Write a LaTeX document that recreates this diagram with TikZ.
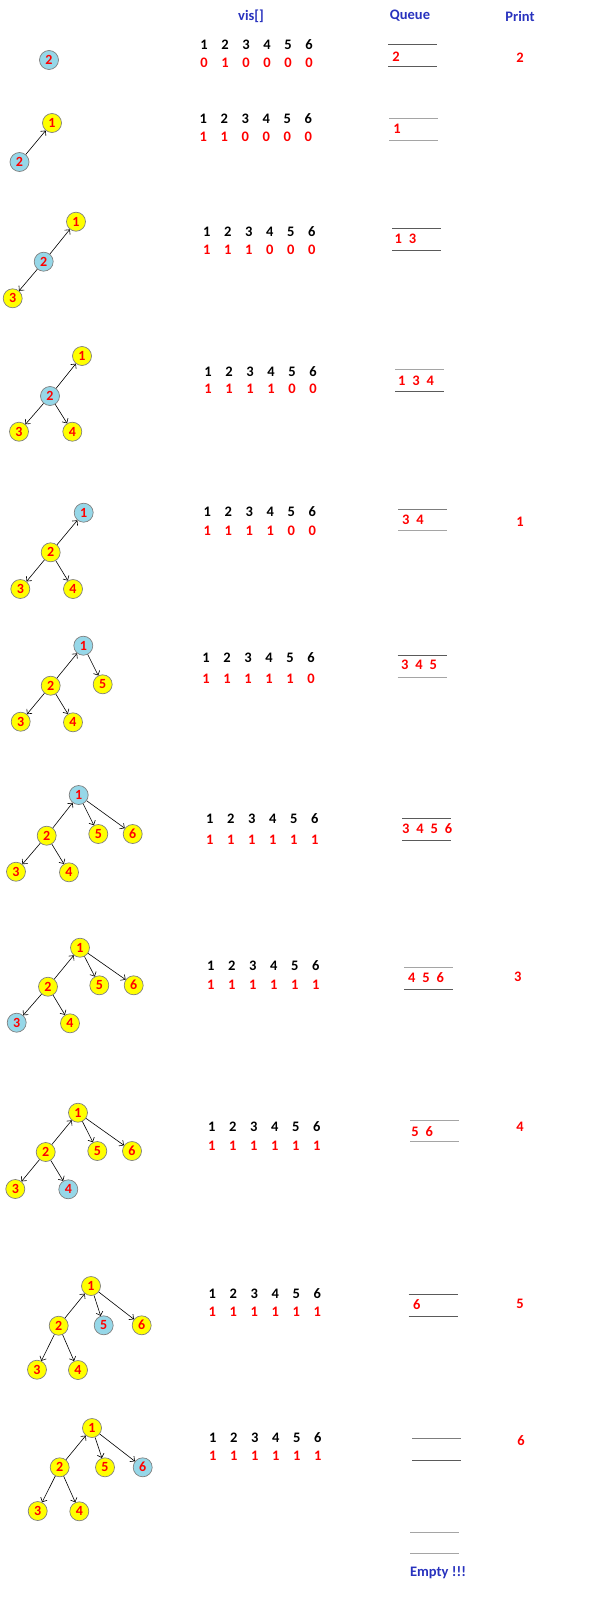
\documentclass[tikz,border=0pt]{standalone}
\usepackage{fontspec}
\setmainfont{Carlito}
\usetikzlibrary{arrows.meta}
\definecolor{hdr}{RGB}{40,50,190}
\definecolor{nblue}{RGB}{150,215,232}
\definecolor{nyel}{RGB}{255,255,0}
\definecolor{txtred}{RGB}{255,0,0}
\definecolor{qdark}{RGB}{90,90,90}
\definecolor{qlight}{RGB}{165,165,165}
\definecolor{qmid}{RGB}{125,125,125}
\tikzset{
 txtbase/.style={font=\fontsize{14.5}{17}\selectfont\bfseries, inner sep=0pt},
 digit/.style={txtbase, text height=9.2pt, text depth=0pt},
 hdrtxt/.style={txtbase, text=hdr},
 blk/.style={digit, text=black},
 rd/.style={digit, text=txtred},
 vnode/.style={circle, draw=gray, line width=0.7pt, minimum size=19pt, inner sep=0pt, text height=9pt, text depth=0pt, font=\fontsize{14}{16}\selectfont\bfseries, text=txtred},
 bn/.style={vnode, fill=nblue},
 yn/.style={vnode, fill=nyel},
 arr/.style={draw=black, line width=0.6pt, -{Straight Barb[length=3.5pt,width=7pt]}},
 qline/.style={line width=1pt}
}
\newcommand\visrow[5]{%
 \foreach \v [count=\i] in {#5} {
   \node[blk] (v#1b\i) at ({#2+21*(\i-1)},#3) {\i};
   \node[rd] (v#1r\i) at ({#2+21*(\i-1)},#4) {\v};
 }}
\newcommand\qrow[7]{%
 \coordinate (q#1a) at (#2,#4); \coordinate (q#1b) at (#3,#4);
 \coordinate (q#1c) at (#2,#5); \coordinate (q#1d) at (#3,#5);
 \draw[qline,#6] (q#1a) -- (q#1b); \draw[qline,#7] (q#1c) -- (q#1d);}
\newcommand\qcont[4]{%
 \foreach \v [count=\i] in {#4} {\node[rd] (qc#1n\i) at ({#2+14.3*(\i-1)},#3) {\v};}}
\begin{document}
\begin{tikzpicture}[x=1pt,y=-1pt]
\useasboundingbox (0,0) rectangle (599,1600);
% headers
\node[hdrtxt] (hvis) at (251,16) {vis[]};
\node[hdrtxt] (hq) at (410,16) {Queue};
\node[hdrtxt] (hp) at (520,16) {Print};
% vis rows
\visrow{1}{204}{45}{62.7}{0,1,0,0,0,0}
\visrow{2}{203.3}{119}{137.3}{1,1,0,0,0,0}
\visrow{3}{206.7}{231.7}{250}{1,1,1,0,0,0}
\visrow{4}{208}{371.7}{389.3}{1,1,1,1,0,0}
\visrow{5}{207.3}{512.3}{530.7}{1,1,1,1,0,0}
\visrow{6}{206}{657.7}{679.3}{1,1,1,1,1,0}
\visrow{7}{209.7}{819}{840}{1,1,1,1,1,1}
\visrow{8}{210.7}{966}{985}{1,1,1,1,1,1}
\visrow{9}{211.7}{1127.3}{1145.7}{1,1,1,1,1,1}
\visrow{10}{212.3}{1294}{1311.7}{1,1,1,1,1,1}
\visrow{11}{212.7}{1438.3}{1456}{1,1,1,1,1,1}
% queues
\qrow{1}{388}{437}{45}{67}{qdark}{qdark}
\qrow{2}{389}{438}{119}{140}{qlight}{qlight}
\qrow{3}{392}{441}{228.3}{250.3}{qdark}{qdark}
\qrow{4}{395.3}{444}{369.7}{391}{qlight}{qdark}
\qrow{5}{398.3}{447}{509.3}{530.7}{qmid}{qlight}
\qrow{6}{397.7}{446.7}{655.3}{677}{qdark}{qlight}
\qrow{7}{402}{451}{818.3}{840}{qdark}{qdark}
\qrow{8}{404.3}{453.3}{967.7}{989}{qlight}{qdark}
\qrow{9}{410}{458.7}{1120}{1141.7}{qlight}{qlight}
\qrow{10}{408.7}{457.7}{1294.3}{1316.3}{qdark}{qdark}
\qrow{11}{412}{461}{1438.5}{1460.3}{qmid}{qdark}
\qrow{12}{410}{458.7}{1532}{1553.7}{qlight}{qlight}
\qcont{1}{396}{57}{2}
\qcont{2}{397}{129}{1}
\qcont{3}{398.3}{238.7}{1,3}
\qcont{4}{401.7}{380.7}{1,3,4}
\qcont{5}{405.7}{520.3}{3,4}
\qcont{6}{404.7}{665}{3,4,5}
\qcont{7}{405.7}{829.3}{3,4,5,6}
\qcont{8}{411.7}{977.7}{4,5,6}
\qcont{9}{415}{1131.7}{5,6}
\qcont{10}{416.7}{1305}{6}
\node[hdrtxt] (empty) at (438,1573) {Empty !!!};
% print
\node[rd] (p1) at (520,58) {2};
\node[rd] (p5) at (520,521.7) {1};
\node[rd] (p8) at (517.7,976.7) {3};
\node[rd] (p9) at (520,1127.3) {4};
\node[rd] (p10) at (520,1304.3) {5};
\node[rd] (p11) at (521,1441.3) {6};
% tree 1
\node[bn] (a2) at (49,60) {2};
% tree 2
\node[yn] (b1) at (52,123) {1};
\node[bn] (b2) at (19.5,162) {2};
\draw[arr] (b2) -- (b1);
% tree 3
\node[yn] (c1) at (76,221.7) {1};
\node[bn] (c2) at (43.7,261.7) {2};
\node[yn] (c3) at (12.7,298.3) {3};
\draw[arr] (c2) -- (c1);
\draw[arr] (c2) -- (c3);
% tree 4
\node[yn] (d1) at (82,356) {1};
\node[bn] (d2) at (50,396) {2};
\node[yn] (d3) at (19,431.7) {3};
\node[yn] (d4) at (72.3,431.7) {4};
\draw[arr] (d2) -- (d1);
\draw[arr] (d2) -- (d3);
\draw[arr] (d2) -- (d4);
% tree 5
\node[bn] (e1) at (83.7,512.7) {1};
\node[yn] (e2) at (50.7,552.3) {2};
\node[yn] (e3) at (20.3,589) {3};
\node[yn] (e4) at (73,589) {4};
\draw[arr] (e2) -- (e1);
\draw[arr] (e2) -- (e3);
\draw[arr] (e2) -- (e4);
% tree 6
\node[bn] (f1) at (83.3,645.7) {1};
\node[yn] (f2) at (50.7,685.7) {2};
\node[yn] (f5) at (102.7,684.3) {5};
\node[yn] (f3) at (20.7,721.7) {3};
\node[yn] (f4) at (73,722.3) {4};
\draw[arr] (f2) -- (f1);
\draw[arr] (f2) -- (f3);
\draw[arr] (f2) -- (f4);
\draw[arr] (f1) -- (f5);
% tree 7
\node[bn] (g1) at (78.7,795) {1};
\node[yn] (g2) at (46.7,835.7) {2};
\node[yn] (g5) at (98.3,834) {5};
\node[yn] (g6) at (132.7,834) {6};
\node[yn] (g3) at (16,871.7) {3};
\node[yn] (g4) at (69,872.3) {4};
\draw[arr] (g2) -- (g1);
\draw[arr] (g2) -- (g3);
\draw[arr] (g2) -- (g4);
\draw[arr] (g1) -- (g5);
\draw[arr] (g1) -- (g6);
% tree 8
\node[yn] (h1) at (80,947.7) {1};
\node[yn] (h2) at (48,986.7) {2};
\node[yn] (h5) at (99.3,985.3) {5};
\node[yn] (h6) at (133.7,985.3) {6};
\node[bn] (h3) at (16.7,1022.7) {3};
\node[yn] (h4) at (70,1023.3) {4};
\draw[arr] (h2) -- (h1);
\draw[arr] (h2) -- (h3);
\draw[arr] (h2) -- (h4);
\draw[arr] (h1) -- (h5);
\draw[arr] (h1) -- (h6);
% tree 9
\node[yn] (i1) at (78,1112.7) {1};
\node[yn] (i2) at (45.7,1152) {2};
\node[yn] (i5) at (97.3,1151) {5};
\node[yn] (i6) at (132,1151) {6};
\node[yn] (i3) at (15.3,1189) {3};
\node[bn] (i4) at (68.3,1189.3) {4};
\draw[arr] (i2) -- (i1);
\draw[arr] (i2) -- (i3);
\draw[arr] (i2) -- (i4);
\draw[arr] (i1) -- (i5);
\draw[arr] (i1) -- (i6);
% tree 10
\node[yn] (j1) at (91,1286) {1};
\node[yn] (j2) at (58.7,1325.7) {2};
\node[bn] (j5) at (103.7,1325.3) {5};
\node[yn] (j6) at (141.7,1325.3) {6};
\node[yn] (j3) at (37,1369.7) {3};
\node[yn] (j4) at (78,1370) {4};
\draw[arr] (j2) -- (j1);
\draw[arr] (j2) -- (j3);
\draw[arr] (j2) -- (j4);
\draw[arr] (j1) -- (j5);
\draw[arr] (j1) -- (j6);
% tree 11
\node[yn] (k1) at (92,1428) {1};
\node[yn] (k2) at (59.7,1467.3) {2};
\node[yn] (k5) at (105,1467.3) {5};
\node[bn] (k6) at (142.7,1467.3) {6};
\node[yn] (k3) at (37.7,1511) {3};
\node[yn] (k4) at (79.3,1511.3) {4};
\draw[arr] (k2) -- (k1);
\draw[arr] (k2) -- (k3);
\draw[arr] (k2) -- (k4);
\draw[arr] (k1) -- (k5);
\draw[arr] (k1) -- (k6);
\end{tikzpicture}
\end{document}
